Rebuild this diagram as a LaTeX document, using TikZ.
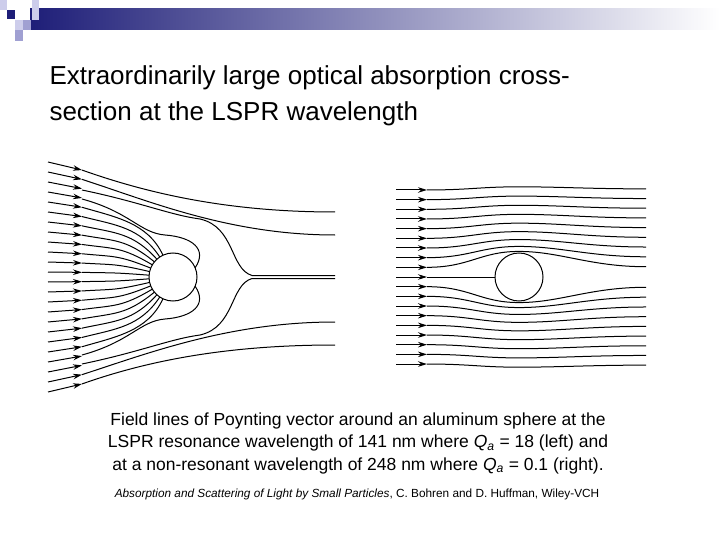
\documentclass[tikz,border=0pt]{standalone}
\usepackage{fontspec}
\setmainfont{Liberation Sans}
\usetikzlibrary{arrows.meta}
\definecolor{navy}{RGB}{30,30,120}
\definecolor{lav}{RGB}{160,160,210}
\definecolor{lavl}{RGB}{205,205,235}
\tikzset{fl/.style={line width=1pt,black},
 arr/.style={fl,-{Stealth[length=9pt,width=5.5pt]}}}
\begin{document}
\begin{tikzpicture}[x=1pt,y=-1pt]
\useasboundingbox (0,0) rectangle (720,540);
\fill[white] (0,0) rectangle (720,540);
% header
\shade[left color=navy,right color=white] (30,9) rectangle (720,30);
\fill[navy] (7,10) rectangle (15,19);
\fill[lavl] (32,0) rectangle (39,10);
\fill[lavl] (32,10) rectangle (39,20);
\fill[lavl] (15,20) rectangle (23,30);
\fill[lav] (23,20) rectangle (31,30);
\fill[lav] (15,30) rectangle (23,41);
\fill[lavl] (0,0) rectangle (7,10);
% title
\node[anchor=base west,font=\fontsize{26}{31}\selectfont] (title) at (46,85) {Extraordinarily large optical absorption cross-};
\node[anchor=base west,font=\fontsize{26}{31}\selectfont] (title2) at (46,121) {section at the LSPR wavelength};
% left figure
\draw[fl] (173,277) circle (24);
\foreach \k in {0,...,23}{
  \pgfmathsetmacro{\o}{(\k-11.5)*10}
  \pgfmathsetmacro{\ys}{277+\o}
  \pgfmathsetmacro{\ya}{277+\o*0.93}
  \draw[arr] (48,\ys) -- (82,\ya);
}
\foreach \k/\ye in {0/212,1/235,22/322,23/345}{
  \pgfmathsetmacro{\o}{(\k-11.5)*10}
  \pgfmathsetmacro{\ya}{277+\o*0.93}
  \pgfmathsetmacro{\yb}{277+\o*0.72}
  \draw[fl] (82,\ya) .. controls (150,\yb) and (230,\ye) .. (335,\ye);
}
\foreach \s/\ye in {-1/275.5,1/278.5}{
  \draw[fl] (82,277+\s*87) .. controls (140,277+\s*75) and (170,277+\s*62) .. (200,277+\s*58)
     .. controls (235,277+\s*50) and (230,277+\s*8) .. (252,\ye) -- (335,\ye);
  \draw[fl] (82,277+\s*78) .. controls (130,277+\s*65) and (140,277+\s*44) .. (165,277+\s*42)
     .. controls (192,277+\s*40) and (208,277+\s*28) .. (195,277+\s*9);
}
\foreach \k in {4,...,19}{
  \pgfmathsetmacro{\o}{(\k-11.5)*10}
  \pgfmathsetmacro{\ya}{277+\o*0.93}
  \pgfmathsetmacro{\yb}{277+\o*0.8}
  \pgfmathsetmacro{\ph}{(\k-11.5)*8.7}
  \pgfmathsetmacro{\ex}{173-24*cos(\ph)}
  \pgfmathsetmacro{\ey}{277+24*sin(\ph)}
  \pgfmathsetmacro{\cx}{173-60*cos(\ph)}
  \pgfmathsetmacro{\cy}{277+60*sin(\ph)}
  \draw[fl] (82,\ya) .. controls (115,\yb) and (\cx,\cy) .. (\ex,\ey);
}
% right figure
\draw[fl] (519,277) circle (24);
\foreach \k in {0,...,18}{
  \pgfmathsetmacro{\o}{(\k-9)*9.67}
  \pgfmathsetmacro{\y}{277+\o}
  \draw[arr] (396,\y) -- (427,\y);
}
\draw[fl] (427,277) -- (495,277);
\foreach \k in {0,...,8,10,11,...,18}{
  \pgfmathsetmacro{\o}{(\k-9)*9.67}
  \pgfmathsetmacro{\op}{(\o)/abs(\o)*sqrt((\o)*(\o)+560)}
  \pgfmathsetmacro{\y}{277+\o}
  \pgfmathsetmacro{\yy}{277+\op}
  \pgfmathsetmacro{\ye}{277+\o+0.12*(\op-(\o))*abs(\o)/30}
  \draw[fl] (427,\y) .. controls (470,\y) and (480,\yy) .. (519,\yy)
     .. controls (560,\yy) and (590,\ye) .. (646,\ye);
}
% caption
\node[align=center,font=\fontsize{17.5}{22.5}\selectfont] (cap) at (358,443) {Field lines of Poynting vector around an aluminum sphere at the\\LSPR resonance wavelength of 141 nm where \textit{Q\textsubscript{a}} = 18 (left) and\\at a non-resonant wavelength of 248 nm where \textit{Q\textsubscript{a}} = 0.1 (right).};
\node[font=\fontsize{11.8}{14}\selectfont] (ref) at (357,494) {\textit{Absorption and Scattering of Light by Small Particles}, C. Bohren and D. Huffman, Wiley-VCH};
\end{tikzpicture}
\end{document}
